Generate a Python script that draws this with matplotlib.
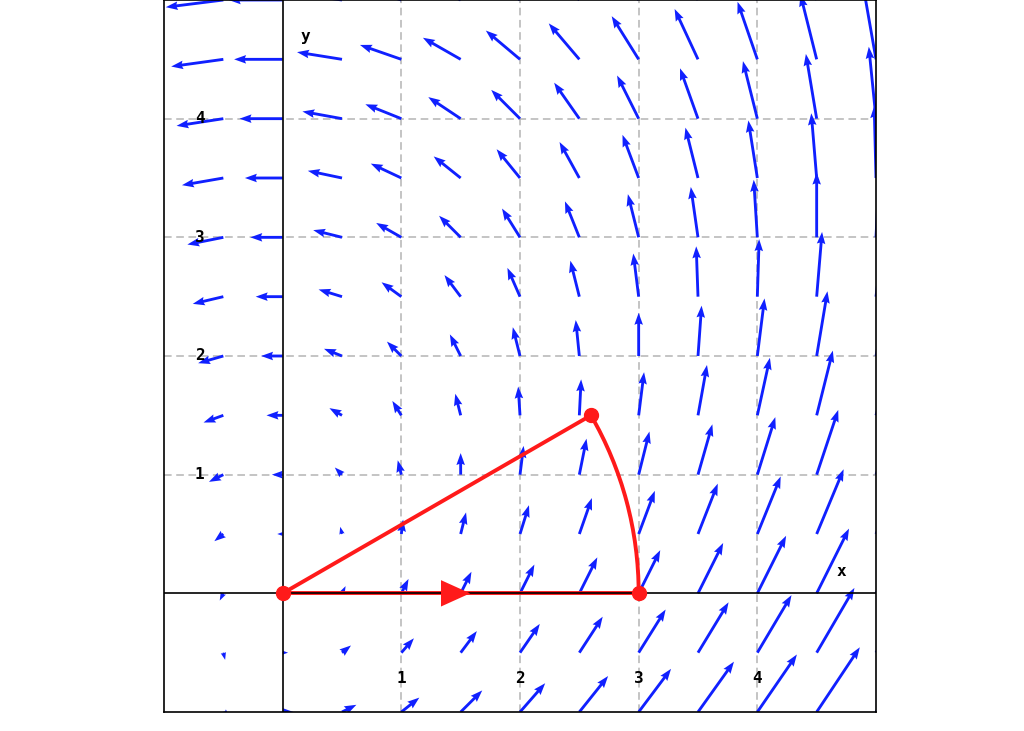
"""Vector field with the sector path of radius 3 (0 to 30 degrees)."""

import matplotlib

matplotlib.use("Agg")
import matplotlib.patches as mpatches
import matplotlib.pyplot as plt
import numpy as np

# arrow tail positions
grid_x = [-0.5, 0, 0.5, 1, 1.5, 2, 2.5, 3, 3.5, 4, 4.5, 5]
grid_y = [-1, -0.5, 0, 0.5, 1, 1.5, 2, 2.5, 3, 3.5, 4, 4.5, 5]

# field components, one row per grid_y value (bottom to top)
field_u = [
    [2, 3, 4, 5, 6, 7, 8, 9, 10, 11, 12, 13],
    [0.5, 1.5, 2.5, 3.5, 4.5, 5.5, 6.5, 7.5, 8.5, 9.5, 10.5, 11.5],
    [-1, 0, 1, 2, 3, 4, 5, 6, 7, 8, 9, 10],
    [-2.5, -1.5, -0.5, 0.5, 1.5, 2.5, 3.5, 4.5, 5.5, 6.5, 7.5, 8.5],
    [-4, -3, -2, -1, 0, 1, 2, 3, 4, 5, 6, 7],
    [-5.5, -4.5, -3.5, -2.5, -1.5, -0.5, 0.5, 1.5, 2.5, 3.5, 4.5, 5.5],
    [-7, -6, -5, -4, -3, -2, -1, 0, 1, 2, 3, 4],
    [-8.5, -7.5, -6.5, -5.5, -4.5, -3.5, -2.5, -1.5, -0.5, 0.5, 1.5, 2.5],
    [-10, -9, -8, -7, -6, -5, -4, -3, -2, -1, 0, 1],
    [-11.5, -10.5, -9.5, -8.5, -7.5, -6.5, -5.5, -4.5, -3.5, -2.5, -1.5, -0.5],
    [-13, -12, -11, -10, -9, -8, -7, -6, -5, -4, -3, -2],
    [-14.5, -13.5, -12.5, -11.5, -10.5, -9.5, -8.5, -7.5, -6.5, -5.5, -4.5, -3.5],
    [-16, -15, -14, -13, -12, -11, -10, -9, -8, -7, -6, -5],
]
field_v = [
    [-2, 0, 2, 4, 6, 8, 10, 12, 14, 16, 18, 20],
    [-2, 0, 2, 4, 6, 8, 10, 12, 14, 16, 18, 20],
    [-2, 0, 2, 4, 6, 8, 10, 12, 14, 16, 18, 20],
    [-2, 0, 2, 4, 6, 8, 10, 12, 14, 16, 18, 20],
    [-2, 0, 2, 4, 6, 8, 10, 12, 14, 16, 18, 20],
    [-2, 0, 2, 4, 6, 8, 10, 12, 14, 16, 18, 20],
    [-2, 0, 2, 4, 6, 8, 10, 12, 14, 16, 18, 20],
    [-2, 0, 2, 4, 6, 8, 10, 12, 14, 16, 18, 20],
    [-2, 0, 2, 4, 6, 8, 10, 12, 14, 16, 18, 20],
    [-2, 0, 2, 4, 6, 8, 10, 12, 14, 16, 18, 20],
    [-2, 0, 2, 4, 6, 8, 10, 12, 14, 16, 18, 20],
    [-2, 0, 2, 4, 6, 8, 10, 12, 14, 16, 18, 20],
    [-2, 0, 2, 4, 6, 8, 10, 12, 14, 16, 18, 20],
]

# the closed path: radius and opening angle of the sector
radius = 3
angle_deg = 30
corner_x = [0, 3, 2.598]
corner_y = [0, 0, 1.5]

tick_values = [1, 2, 3, 4]

BLUE = "#1020ff"
RED = "#ff1a1a"

fig = plt.figure(figsize=(10.24, 7.31), dpi=100)
ax = fig.add_axes([164 / 1024, 19 / 731, 712 / 1024, 712 / 731])
ax.set_xlim(-1, 5)
ax.set_ylim(-1, 5)
ax.set_xticks([])
ax.set_yticks([])
for spine in ax.spines.values():
    spine.set_linewidth(1.2)
    spine.set_color("black")

# dashed grid at the integer positions
for t in tick_values:
    ax.axvline(t, color="#b4b4b4", lw=1.1, ls=(0, (5, 3)), zorder=1)
    ax.axhline(t, color="#b4b4b4", lw=1.1, ls=(0, (5, 3)), zorder=1)

X, Y = np.meshgrid(grid_x, grid_y)
ax.quiver(
    X, Y, np.array(field_u), np.array(field_v),
    color=BLUE, angles="xy", scale_units="xy", scale=33,
    width=0.004, headwidth=3, headlength=4.2, headaxislength=3.8,
    zorder=2,
)

# sector path
ax.plot(corner_x[:2], corner_y[:2], color=RED, lw=2.8, zorder=3)
ax.plot([corner_x[0], corner_x[2]], [corner_y[0], corner_y[2]], color=RED, lw=2.8, zorder=3)
ax.add_patch(
    mpatches.Arc((0, 0), 2 * radius, 2 * radius, theta1=0, theta2=angle_deg,
                 color=RED, lw=2.8, zorder=3)
)
ax.annotate(
    "", xy=(1.58, 0), xytext=(1.32, 0),
    arrowprops=dict(arrowstyle="-|>,head_length=2.1,head_width=0.95",
                    color=RED, lw=0, shrinkA=0, shrinkB=0),
    zorder=5,
)

# coordinate axes drawn over the red path
ax.axhline(0, color="black", lw=1.2, zorder=4)
ax.axvline(0, color="black", lw=1.2, zorder=4)
ax.plot(corner_x, corner_y, "o", color=RED, ms=10, zorder=6)

lab = dict(fontsize=11.5, fontweight="bold", family="DejaVu Sans Mono",
           ha="center", va="center", zorder=7)
for t in tick_values:
    ax.text(t, -0.72, str(t), **lab)
    ax.text(-0.7, t, str(t), **lab)
ax.text(4.71, 0.18, "x", **lab)
ax.text(0.19, 4.69, "y", **lab)

fig.savefig("out.png", dpi=100)
